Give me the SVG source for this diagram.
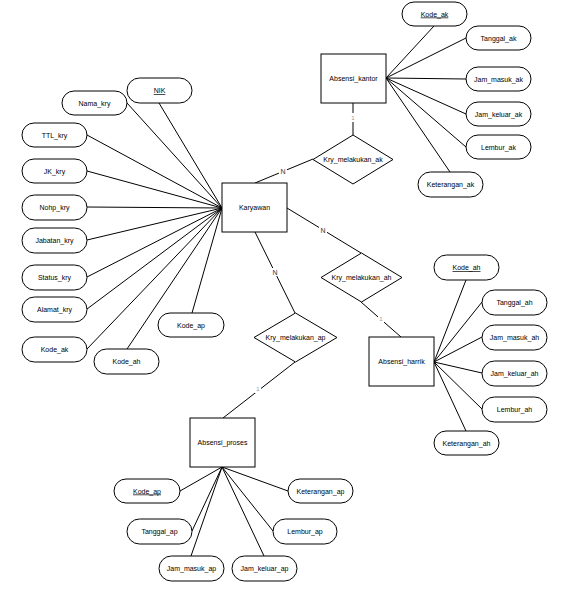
<svg xmlns="http://www.w3.org/2000/svg" width="567" height="591" viewBox="0 0 567 591">
<style>
.e{fill:#fff;stroke:#000;stroke-width:1}
.a{fill:#fff;stroke:#000;stroke-width:1}
.r{fill:#fff;stroke:#000;stroke-width:1}
.c line{stroke:#000;stroke-width:1}
.bg{fill:#fff;stroke:none}
text{font-family:"Liberation Sans",Arial,sans-serif;font-size:7px;fill:#000;text-anchor:middle}
.u{text-decoration:underline}
.n{fill:#333}
.one{fill:#999;font-size:6px}
</style>
<rect width="567" height="591" fill="#fff"/>
<g class="c" id="connectors">
<!-- Karyawan attributes -->
<line x1="159" y1="103" x2="222" y2="208"/>
<line x1="127" y1="103" x2="222" y2="208"/>
<line x1="87" y1="135" x2="222" y2="208"/>
<line x1="87" y1="171" x2="222" y2="208"/>
<line x1="87" y1="207" x2="222" y2="208"/>
<line x1="87" y1="240" x2="222" y2="208"/>
<line x1="87" y1="277" x2="222" y2="208"/>
<line x1="87" y1="309" x2="222" y2="208"/>
<line x1="87" y1="349" x2="222" y2="208"/>
<line x1="127" y1="349" x2="222" y2="208"/>
<line x1="192" y1="313" x2="222" y2="208"/>
<!-- Absensi_kantor attributes -->
<line x1="434" y1="26" x2="386" y2="78"/>
<line x1="466" y1="38" x2="386" y2="78"/>
<line x1="466" y1="79" x2="386" y2="78"/>
<line x1="466" y1="114" x2="386" y2="78"/>
<line x1="466" y1="147" x2="386" y2="78"/>
<line x1="450" y1="172" x2="386" y2="78"/>
<!-- Absensi_harrik attributes -->
<line x1="466" y1="280" x2="434" y2="362"/>
<line x1="482" y1="302" x2="434" y2="362"/>
<line x1="482" y1="337" x2="434" y2="362"/>
<line x1="482" y1="373" x2="434" y2="362"/>
<line x1="482" y1="409" x2="434" y2="362"/>
<line x1="466" y1="431" x2="434" y2="362"/>
<!-- Absensi_proses attributes -->
<line x1="180" y1="491" x2="222" y2="467"/>
<line x1="192" y1="531" x2="222" y2="467"/>
<line x1="191" y1="556" x2="222" y2="467"/>
<line x1="264" y1="556" x2="222" y2="467"/>
<line x1="273" y1="531" x2="222" y2="467"/>
<line x1="288" y1="491" x2="222" y2="467"/>
<!-- relationships -->
<line x1="255" y1="183" x2="313" y2="159"/>
<line x1="353" y1="103" x2="353" y2="135"/>
<line x1="287" y1="208" x2="361" y2="253"/>
<line x1="361" y1="302" x2="401" y2="337"/>
<line x1="255" y1="232" x2="295" y2="313"/>
<line x1="295" y1="362" x2="223" y2="418"/>
<rect class="bg" x="279" y="167" width="8" height="8"/>
<text class="n" x="283" y="174">N</text>
<rect class="bg" x="350" y="113" width="6" height="9"/>
<text class="one" x="353" y="120">1</text>
<rect class="bg" x="319" y="226" width="8" height="8"/>
<text class="n" x="323" y="233">N</text>
<rect class="bg" x="378" y="315" width="6" height="8"/>
<text class="one" x="381" y="321">1</text>
<rect class="bg" x="271" y="268" width="8" height="8"/>
<text class="n" x="275" y="275">N</text>
<rect class="bg" x="255" y="385" width="6" height="8"/>
<text class="one" x="258" y="391">1</text>
</g>
<g id="Karyawan"><rect class="r" x="222" y="183" width="65" height="49"/><text x="254.5" y="210">Karyawan</text></g>
<g id="Absensi_kantor"><rect class="r" x="321" y="54" width="65" height="49"/><text x="353.5" y="81">Absensi_kantor</text></g>
<g id="Absensi_harrik"><rect class="r" x="369" y="337" width="65" height="49"/><text x="401.5" y="364">Absensi_harrik</text></g>
<g id="Absensi_proses"><rect class="r" x="190" y="418" width="65" height="49"/><text x="222.5" y="445">Absensi_proses</text></g>
<g id="Kry_melakukan_ak"><polygon class="e" points="353,135 393,159.5 353,184 313,159.5"/><text x="353" y="162">Kry_melakukan_ak</text></g>
<g id="Kry_melakukan_ah"><polygon class="e" points="361.5,253 402,277.5 361.5,302 321,277.5"/><text x="361.5" y="280">Kry_melakukan_ah</text></g>
<g id="Kry_melakukan_ap"><polygon class="e" points="295.5,313 337,337.5 295.5,362 254,337.5"/><text x="295.5" y="340">Kry_melakukan_ap</text></g>
<g id="NIK"><rect class="a" x="127" y="78" width="65" height="25" rx="12.5"/><text class="u" x="159.5" y="93">NIK</text></g>
<g id="Nama_kry"><rect class="a" x="62" y="91" width="65" height="24" rx="12"/><text x="94.5" y="105.5">Nama_kry</text></g>
<g id="TTL_kry"><rect class="a" x="22" y="123" width="65" height="24" rx="12"/><text x="54.5" y="137.5">TTL_kry</text></g>
<g id="JK_kry"><rect class="a" x="22" y="159" width="65" height="24" rx="12"/><text x="54.5" y="173.5">JK_kry</text></g>
<g id="Nohp_kry"><rect class="a" x="22" y="195" width="65" height="25" rx="12.5"/><text x="54.5" y="210">Nohp_kry</text></g>
<g id="Jabatan_kry"><rect class="a" x="22" y="228" width="65" height="25" rx="12.5"/><text x="54.5" y="243">Jabatan_kry</text></g>
<g id="Status_kry"><rect class="a" x="22" y="265" width="65" height="25" rx="12.5"/><text x="54.5" y="280">Status_kry</text></g>
<g id="Alamat_kry"><rect class="a" x="22" y="297" width="65" height="25" rx="12.5"/><text x="54.5" y="312">Alamat_kry</text></g>
<g id="Kode_ak_kry"><rect class="a" x="22" y="337" width="65" height="25" rx="12.5"/><text x="54.5" y="352">Kode_ak</text></g>
<g id="Kode_ah_kry"><rect class="a" x="94" y="349" width="65" height="25" rx="12.5"/><text x="126.5" y="364">Kode_ah</text></g>
<g id="Kode_ap_kry"><rect class="a" x="158" y="313" width="66" height="24" rx="12"/><text x="191" y="327.5">Kode_ap</text></g>
<g id="Kode_ak"><rect class="a" x="402" y="2" width="65" height="24" rx="12"/><text class="u" x="434.5" y="16.5">Kode_ak</text></g>
<g id="Tanggal_ak"><rect class="a" x="466" y="26" width="65" height="24" rx="12"/><text x="498.5" y="40.5">Tanggal_ak</text></g>
<g id="Jam_masuk_ak"><rect class="a" x="466" y="67" width="65" height="24" rx="12"/><text x="498.5" y="81.5">Jam_masuk_ak</text></g>
<g id="Jam_keluar_ak"><rect class="a" x="466" y="102" width="65" height="24" rx="12"/><text x="498.5" y="116.5">Jam_keluar_ak</text></g>
<g id="Lembur_ak"><rect class="a" x="466" y="135" width="65" height="24" rx="12"/><text x="498.5" y="149.5">Lembur_ak</text></g>
<g id="Keterangan_ak"><rect class="a" x="418" y="172" width="65" height="25" rx="12.5"/><text x="450.5" y="187">Keterangan_ak</text></g>
<g id="Kode_ah"><rect class="a" x="434" y="255" width="65" height="25" rx="12.5"/><text class="u" x="466.5" y="270">Kode_ah</text></g>
<g id="Tanggal_ah"><rect class="a" x="482" y="290" width="65" height="25" rx="12.5"/><text x="514.5" y="305">Tanggal_ah</text></g>
<g id="Jam_masuk_ah"><rect class="a" x="482" y="325" width="65" height="25" rx="12.5"/><text x="514.5" y="340">Jam_masuk_ah</text></g>
<g id="Jam_keluar_ah"><rect class="a" x="482" y="361" width="65" height="25" rx="12.5"/><text x="514.5" y="376">Jam_keluar_ah</text></g>
<g id="Lembur_ah"><rect class="a" x="482" y="397" width="65" height="25" rx="12.5"/><text x="514.5" y="412">Lembur_ah</text></g>
<g id="Keterangan_ah"><rect class="a" x="434" y="431" width="65" height="24" rx="12"/><text x="466.5" y="445.5">Keterangan_ah</text></g>
<g id="Kode_ap"><rect class="a" x="114" y="479" width="66" height="24" rx="12"/><text class="u" x="147" y="493.5">Kode_ap</text></g>
<g id="Tanggal_ap"><rect class="a" x="127" y="519" width="65" height="25" rx="12.5"/><text x="159.5" y="534">Tanggal_ap</text></g>
<g id="Jam_masuk_ap"><rect class="a" x="159" y="556" width="65" height="25" rx="12.5"/><text x="191.5" y="571">Jam_masuk_ap</text></g>
<g id="Jam_keluar_ap"><rect class="a" x="232" y="556" width="65" height="25" rx="12.5"/><text x="264.5" y="571">Jam_keluar_ap</text></g>
<g id="Lembur_ap"><rect class="a" x="273" y="519" width="64" height="25" rx="12.5"/><text x="305" y="534">Lembur_ap</text></g>
<g id="Keterangan_ap"><rect class="a" x="288" y="479" width="65" height="24" rx="12"/><text x="320.5" y="493.5">Keterangan_ap</text></g>
</svg>
